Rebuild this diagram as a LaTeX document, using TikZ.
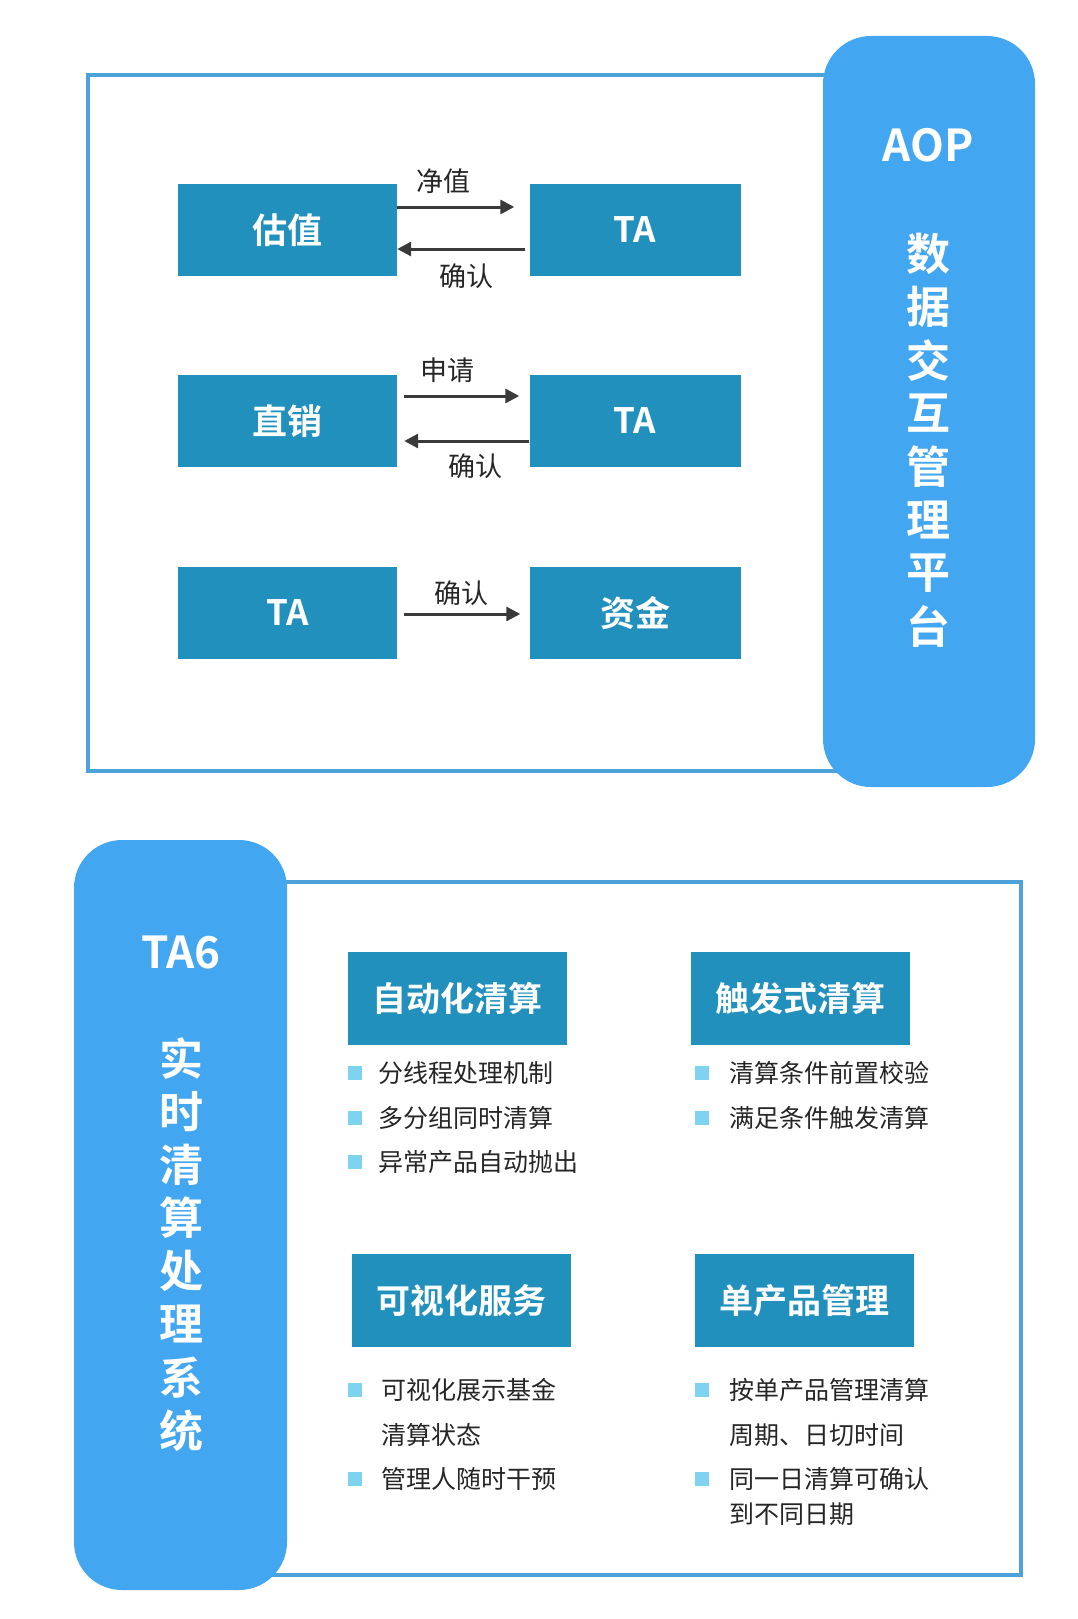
\documentclass[tikz,border=0pt]{standalone}
\usepackage{fontspec}
\setmainfont{Noto Sans CJK SC}[BoldFont={Noto Sans CJK SC Bold}]
\usetikzlibrary{arrows.meta}
\definecolor{bigblue}{HTML}{43A6F1}
\definecolor{boxteal}{HTML}{2190BC}
\definecolor{frameblue}{HTML}{4DA2DA}
\definecolor{bulletcyan}{HTML}{7FD3EF}
\definecolor{arrowgray}{HTML}{3A3A3A}
\definecolor{txtdark}{HTML}{262626}
\tikzset{
  framebox/.style={draw=frameblue, line width=4pt},
  sidebox/.style={fill=bigblue, rounded corners=48pt, inner sep=0pt},
  flowbox/.style={fill=boxteal, inner sep=0pt, minimum height=92pt, text=white, font=\fontsize{35}{40}\selectfont\bfseries},
  headbox/.style={fill=boxteal, inner sep=0pt, minimum width=219pt, minimum height=93pt, text=white, font=\fontsize{34}{40}\selectfont\bfseries},
  sidetitle/.style={text=white, inner sep=0pt, font=\fontsize{44}{50}\selectfont\bfseries},
  arr/.style={draw=arrowgray, line width=3pt, -{Triangle[length=14pt,width=14pt]}},
  flowlabel/.style={text=txtdark, inner sep=0pt, font=\fontsize{27}{30}\selectfont},
  bulletsq/.style={fill=bulletcyan, minimum size=14pt, inner sep=0pt},
  itemtext/.style={text=txtdark, inner sep=0pt, anchor=west, font=\fontsize{25}{30}\selectfont},
}
\begin{document}
\begin{tikzpicture}[x=1pt,y=-1pt]
\useasboundingbox (0,0) rectangle (1077,1619);
\fill[white] (0,0) rectangle (1077,1619);

% ---------- top section ----------
\draw[framebox] (88,75) rectangle (860,771);
\node[sidebox, minimum width=212pt, minimum height=751pt] (aopbox) at (929,411.5) {};
\node[sidetitle] (aop) at (928,145) {AOP};
\foreach \c [count=\i] in {数,据,交,互,管,理,平,台}
  \node[sidetitle] (aopc\i) at (928,{254+53.2*(\i-1)}) {\c};

\node[flowbox, minimum width=219pt] (gz) at (287.5,230) {估值};
\node[flowbox, minimum width=211pt] (ta1) at (635,230) {TA};
\node[flowbox, minimum width=219pt] (zx) at (287.5,421) {直销};
\node[flowbox, minimum width=211pt] (ta2) at (635,421) {TA};
\node[flowbox, minimum width=219pt] (ta3) at (287.5,613) {TA};
\node[flowbox, minimum width=211pt] (zj) at (635,613) {资金};

\draw[arr, shorten >=15pt] ([yshift=23pt]gz.east) -- ([yshift=23pt]ta1.west);
\draw[arr, shorten <=4pt] ([yshift=-19pt]ta1.west) -- ([yshift=-19pt]gz.east);
\draw[arr, shorten <=7pt, shorten >=10pt] ([yshift=25pt]zx.east) -- ([yshift=25pt]ta2.west);
\draw[arr, shorten >=7pt] ([yshift=-20pt]ta2.west) -- ([yshift=-20pt]zx.east);
\draw[arr, shorten <=7pt, shorten >=9pt] ([yshift=-1pt]ta3.east) -- ([yshift=-1pt]zj.west);

\node[flowlabel] (l1) at (443,181) {净值};
\node[flowlabel] (l2) at (466,276) {确认};
\node[flowlabel] (l3) at (447,370) {申请};
\node[flowlabel] (l4) at (475,466) {确认};
\node[flowlabel] (l5) at (461,593) {确认};

% ---------- bottom section ----------
\draw[framebox] (250,882) rectangle (1021,1575);
\node[sidebox, minimum width=213pt, minimum height=750pt] (tabox) at (180.5,1215) {};
\node[sidetitle] (ta6) at (181,952) {TA6};
\foreach \c [count=\i] in {实,时,清,算,处,理,系,统}
  \node[sidetitle] (tac\i) at (181,{1058+53.3*(\i-1)}) {\c};

\node[headbox] (h1) at (457.5,998.5) {自动化清算};
\node[headbox] (h2) at (800,998.5) {触发式清算};
\node[headbox] (h3) at (461.5,1300.5) {可视化服务};
\node[headbox] (h4) at (804,1300.5) {单产品管理};

% bullets, group 1
\node[bulletsq] (b11) at (355,1073) {};
\node[itemtext] (t11) at (378,1073) {分线程处理机制};
\node[bulletsq] (b12) at (355,1118) {};
\node[itemtext] (t12) at (378,1118) {多分组同时清算};
\node[bulletsq] (b13) at (355,1162) {};
\node[itemtext] (t13) at (378,1162) {异常产品自动抛出};
% group 2
\node[bulletsq] (b21) at (702,1073) {};
\node[itemtext] (t21) at (729,1073) {清算条件前置校验};
\node[bulletsq] (b22) at (702,1118) {};
\node[itemtext] (t22) at (729,1118) {满足条件触发清算};
% group 3
\node[bulletsq] (b31) at (355,1390) {};
\node[itemtext] (t31) at (381,1390) {可视化展示基金};
\node[itemtext] (t32) at (381,1435) {清算状态};
\node[bulletsq] (b33) at (355,1479) {};
\node[itemtext] (t33) at (381,1479) {管理人随时干预};
% group 4
\node[bulletsq] (b41) at (702,1390) {};
\node[itemtext] (t41) at (729,1390) {按单产品管理清算};
\node[itemtext] (t42) at (729,1435) {周期、日切时间};
\node[bulletsq] (b43) at (702,1479) {};
\node[itemtext] (t43) at (729,1479) {同一日清算可确认};
\node[itemtext] (t44) at (729,1514) {到不同日期};
\end{tikzpicture}
\end{document}
